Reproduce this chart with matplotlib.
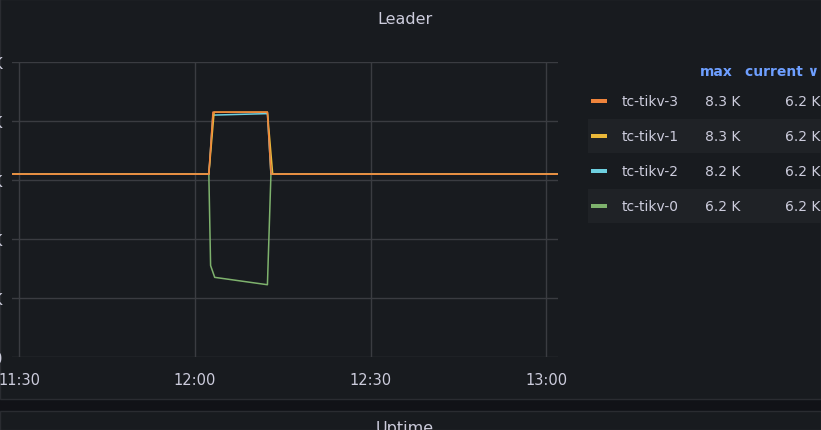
import matplotlib
matplotlib.use("Agg")
import matplotlib.pyplot as plt
import matplotlib.patches as mpatches
import numpy as np

# minutes since 11:30
names = ["tc-tikv-3", "tc-tikv-1", "tc-tikv-2", "tc-tikv-0"]
colors = ["#EF843C", "#EAB839", "#6ED0E0", "#7EB26D"]
maxv = ["8.3 K", "8.3 K", "8.2 K", "6.2 K"]
curv = ["6.2 K", "6.2 K", "6.2 K", "6.2 K"]
series_t = {
    "tc-tikv-3": [-1.2, 32.4, 33.1, 42.4, 43.0, 92.0],
    "tc-tikv-1": [-1.2, 32.4, 33.3, 42.4, 43.3, 92.0],
    "tc-tikv-2": [-1.2, 32.4, 33.1, 42.4, 43.0, 92.0],
    "tc-tikv-0": [-1.2, 32.4, 32.7, 33.4, 42.4, 43.0, 92.0],
}
series_v = {
    "tc-tikv-3": [6.2, 6.2, 8.3, 8.3, 6.2, 6.2],
    "tc-tikv-1": [6.2, 6.2, 8.3, 8.3, 6.2, 6.2],
    "tc-tikv-2": [6.2, 6.2, 8.2, 8.25, 6.2, 6.2],
    "tc-tikv-0": [6.2, 6.2, 3.1, 2.7, 2.45, 6.2, 6.2],
}
xticks = [0, 30, 60, 90]
xlabels = ["11:30", "12:00", "12:30", "13:00"]
yticks = [0, 2, 4, 6, 8, 10]
ylabels = ["0", "2 K", "4 K", "6 K", "8 K", "10 K"]

W, H = 821, 431
fig = plt.figure(figsize=(W/100, H/100), dpi=100)
fig.patch.set_facecolor("#111217")
# panel
fig.patches.append(mpatches.Rectangle((0, 1-400/H), 1, 400/H, transform=fig.transFigure,
                                      facecolor="#181b1f", edgecolor="#2a2c31", lw=1, zorder=-10))
fig.patches.append(mpatches.Rectangle((0, 0), 1, 19/H, transform=fig.transFigure,
                                      facecolor="#181b1f", edgecolor="#2a2c31", lw=1, zorder=-10))
fig.text(405/W, 1-20/H, "Leader", color="#ccccdc", fontsize=11.5, ha="center", va="center")
fig.text(405/W, 1-429/H, "Uptime", color="#ccccdc", fontsize=11.5, ha="center", va="center")

ax = fig.add_axes([12/W, 1-358/H, (558-12)/W, (358-63)/H], zorder=5)
ax.set_facecolor("#181b1f")
for n, c in zip(names[::-1], colors[::-1]):
    ax.plot(series_t[n], series_v[n], color=c, lw=1.1)
ax.set_xlim(-1.2, 92.0)
ax.set_ylim(0, 10)
ax.set_xticks(xticks, xlabels)
ax.set_yticks(yticks, ylabels)
ax.grid(True, color="#3a3c41", lw=1)
ax.set_axisbelow(True)
for s in ax.spines.values():
    s.set_visible(False)
ax.tick_params(colors="#ccccdc", labelsize=10.5, length=0)
ax.tick_params(axis="y", pad=7)
ax.tick_params(axis="x", pad=11)

# legend
fig.text(716/W, 1-72/H, "max", color="#6e9fff", fontsize=10, ha="center", va="center", weight="bold")
fig.text(745/W, 1-72/H, "current \u2228", color="#6e9fff", fontsize=10, ha="left", va="center", weight="bold")
for i, (n, c, m, cu) in enumerate(zip(names, colors, maxv, curv)):
    y = 102 + 35*i
    if i % 2 == 1:
        fig.patches.append(mpatches.Rectangle((588/W, 1-(y+17)/H), 240/W, 34/H,
                           transform=fig.transFigure, facecolor="#1f2226", edgecolor="none", zorder=-5))
    fig.patches.append(mpatches.Rectangle((591/W, 1-(y+2)/H), 16/W, 4/H,
                       transform=fig.transFigure, facecolor=c, edgecolor="none"))
    fig.text(622/W, 1-y/H, n, color="#ccccdc", fontsize=10, va="center")
    fig.text(705/W, 1-y/H, m, color="#ccccdc", fontsize=10, va="center")
    fig.text(785/W, 1-y/H, cu, color="#ccccdc", fontsize=10, va="center")

fig.savefig("out.png", dpi=100, facecolor=fig.get_facecolor())
